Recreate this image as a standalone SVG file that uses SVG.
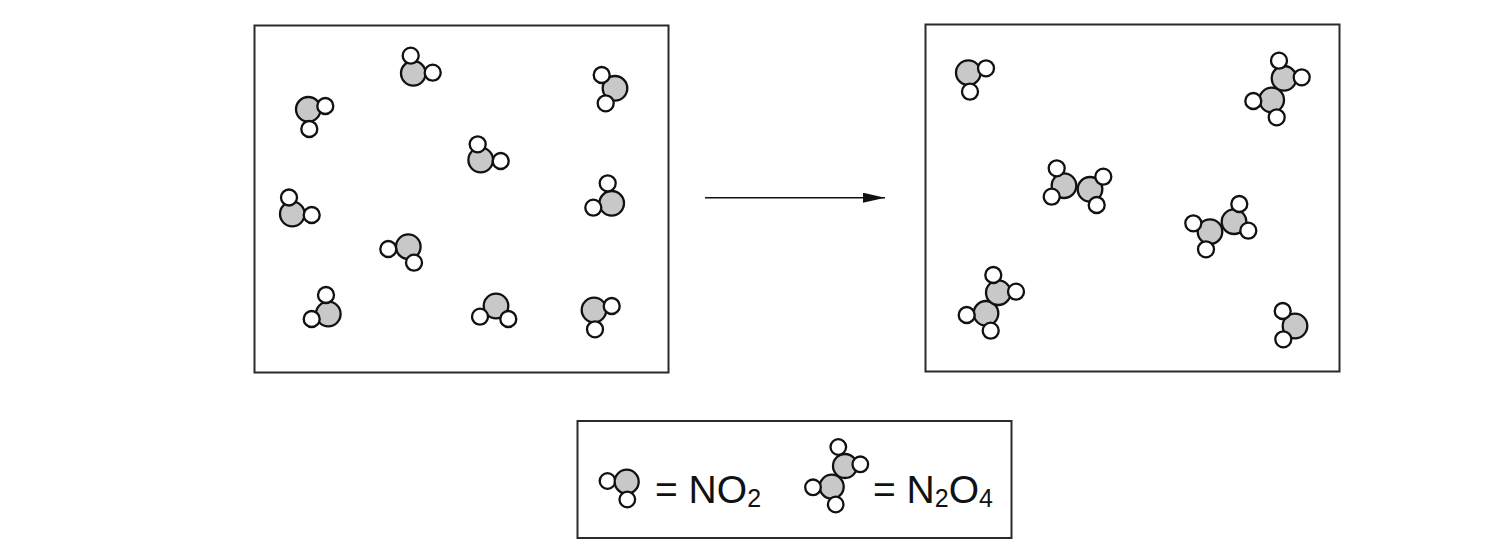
<svg xmlns="http://www.w3.org/2000/svg" width="1491" height="559" viewBox="0 0 1491 559">
<style>
.box{fill:#fff;stroke:#2a2a2a;stroke-width:2}
.n{fill:#c8c8c8;stroke:#111;stroke-width:2.3}
.o{fill:#fff;stroke:#111;stroke-width:2.3}
.t{font-family:"Liberation Sans",Arial,Helvetica,sans-serif;font-size:39px;fill:#111}
.s{font-size:25px}
</style>
<defs>
<marker id="ah" markerWidth="22" markerHeight="10" refX="22" refY="5" orient="auto" markerUnits="userSpaceOnUse">
<polygon points="0,0 22,5 0,10" fill="#111"/>
</marker>
</defs>
<rect width="1491" height="559" fill="#fff"/>

<g id="before">
<rect class="box" x="254.5" y="25.5" width="414" height="347"/>
<g id="m1"><circle class="n" cx="308.3" cy="109.3" r="12.3"/><circle class="o" cx="325.3" cy="106" r="8"/><circle class="o" cx="309.3" cy="129" r="8"/></g>
<g id="m2"><circle class="n" cx="413.3" cy="73.3" r="12.3"/><circle class="o" cx="410.7" cy="55.7" r="8"/><circle class="o" cx="432.7" cy="72.7" r="8"/></g>
<g id="m3"><circle class="n" cx="615" cy="88.3" r="12.3"/><circle class="o" cx="601.7" cy="75" r="8"/><circle class="o" cx="605.7" cy="103.3" r="8"/></g>
<g id="m4"><circle class="n" cx="480.7" cy="160" r="12.3"/><circle class="o" cx="477.7" cy="144.3" r="8"/><circle class="o" cx="500.7" cy="161" r="8"/></g>
<g id="m5"><circle class="n" cx="292.3" cy="214" r="12.3"/><circle class="o" cx="289" cy="197.5" r="8"/><circle class="o" cx="311.7" cy="215" r="8"/></g>
<g id="m6"><circle class="n" cx="611.7" cy="203.3" r="12.3"/><circle class="o" cx="607.7" cy="183.3" r="8"/><circle class="o" cx="593.3" cy="207.7" r="8"/></g>
<g id="m7"><circle class="n" cx="408.3" cy="246.7" r="12.3"/><circle class="o" cx="388.3" cy="249" r="8"/><circle class="o" cx="414" cy="262.7" r="8"/></g>
<g id="m8"><circle class="n" cx="328.3" cy="314" r="12.3"/><circle class="o" cx="326" cy="295" r="8"/><circle class="o" cx="311.7" cy="319" r="8"/></g>
<g id="m9"><circle class="n" cx="496" cy="306" r="12.3"/><circle class="o" cx="480" cy="316.7" r="8"/><circle class="o" cx="508.3" cy="319" r="8"/></g>
<g id="m10"><circle class="n" cx="594" cy="310" r="12.3"/><circle class="o" cx="611.7" cy="306" r="8"/><circle class="o" cx="595" cy="329.3" r="8"/></g>
</g>

<g id="after">
<rect class="box" x="925.5" y="24.5" width="414" height="347"/>
<g id="a1"><circle class="n" cx="968.3" cy="72.7" r="12.3"/><circle class="o" cx="986" cy="68.3" r="8"/><circle class="o" cx="970" cy="91.7" r="8"/></g>
<g id="a2"><circle class="n" cx="1064" cy="185.7" r="12.3"/><circle class="n" cx="1090" cy="189.3" r="12.3"/><circle class="o" cx="1056.7" cy="168.3" r="8"/><circle class="o" cx="1051.7" cy="196.7" r="8"/><circle class="o" cx="1103.3" cy="176.7" r="8"/><circle class="o" cx="1096.7" cy="205" r="8"/></g>
<g id="a3"><circle class="n" cx="1271.7" cy="100" r="12.3"/><circle class="n" cx="1284" cy="78.3" r="12.3"/><circle class="o" cx="1279" cy="60.7" r="8"/><circle class="o" cx="1301.7" cy="77.3" r="8"/><circle class="o" cx="1253.3" cy="101" r="8"/><circle class="o" cx="1276.7" cy="117.3" r="8"/></g>
<g id="a4"><circle class="n" cx="986" cy="313.3" r="12.3"/><circle class="n" cx="998.3" cy="292.7" r="12.3"/><circle class="o" cx="993.3" cy="275" r="8"/><circle class="o" cx="1016" cy="291.7" r="8"/><circle class="o" cx="966.7" cy="315" r="8"/><circle class="o" cx="990.7" cy="330.7" r="8"/></g>
<g id="a5"><circle class="n" cx="1210" cy="231.7" r="12.3"/><circle class="n" cx="1234" cy="221.7" r="12.3"/><circle class="o" cx="1193.3" cy="223.3" r="8"/><circle class="o" cx="1206" cy="249.3" r="8"/><circle class="o" cx="1239.3" cy="204" r="8"/><circle class="o" cx="1248.3" cy="230.7" r="8"/></g>
<g id="a6"><circle class="n" cx="1295" cy="326" r="12.3"/><circle class="o" cx="1282.7" cy="311" r="8"/><circle class="o" cx="1283.3" cy="339.3" r="8"/></g>
</g>

<g id="connectors">
<line x1="705" y1="197.7" x2="885" y2="197.7" stroke="#111" stroke-width="1.6" marker-end="url(#ah)"/>
</g>

<g id="legend">
<rect class="box" x="577.5" y="421" width="434" height="117"/>
<g id="l1"><circle class="o" cx="607.5" cy="481" r="7.8"/><circle class="n" cx="626.7" cy="481.7" r="12"/><circle class="o" cx="627.3" cy="499.5" r="7.8"/></g>
<text class="t" x="655" y="503.3">= NO<tspan class="s" dy="3.8">2</tspan></text>
<g id="l2"><circle class="n" cx="831.7" cy="486.7" r="12"/><circle class="n" cx="845" cy="466" r="12"/><circle class="o" cx="838.3" cy="447" r="7.8"/><circle class="o" cx="860.3" cy="464.3" r="7.8"/><circle class="o" cx="813" cy="487.3" r="7.8"/><circle class="o" cx="835.7" cy="504.5" r="7.8"/></g>
<text class="t" x="873" y="503.3">= N<tspan class="s" dy="3.8">2</tspan><tspan dy="-3.8">O</tspan><tspan class="s" dy="3.8">4</tspan></text>
</g>
</svg>
